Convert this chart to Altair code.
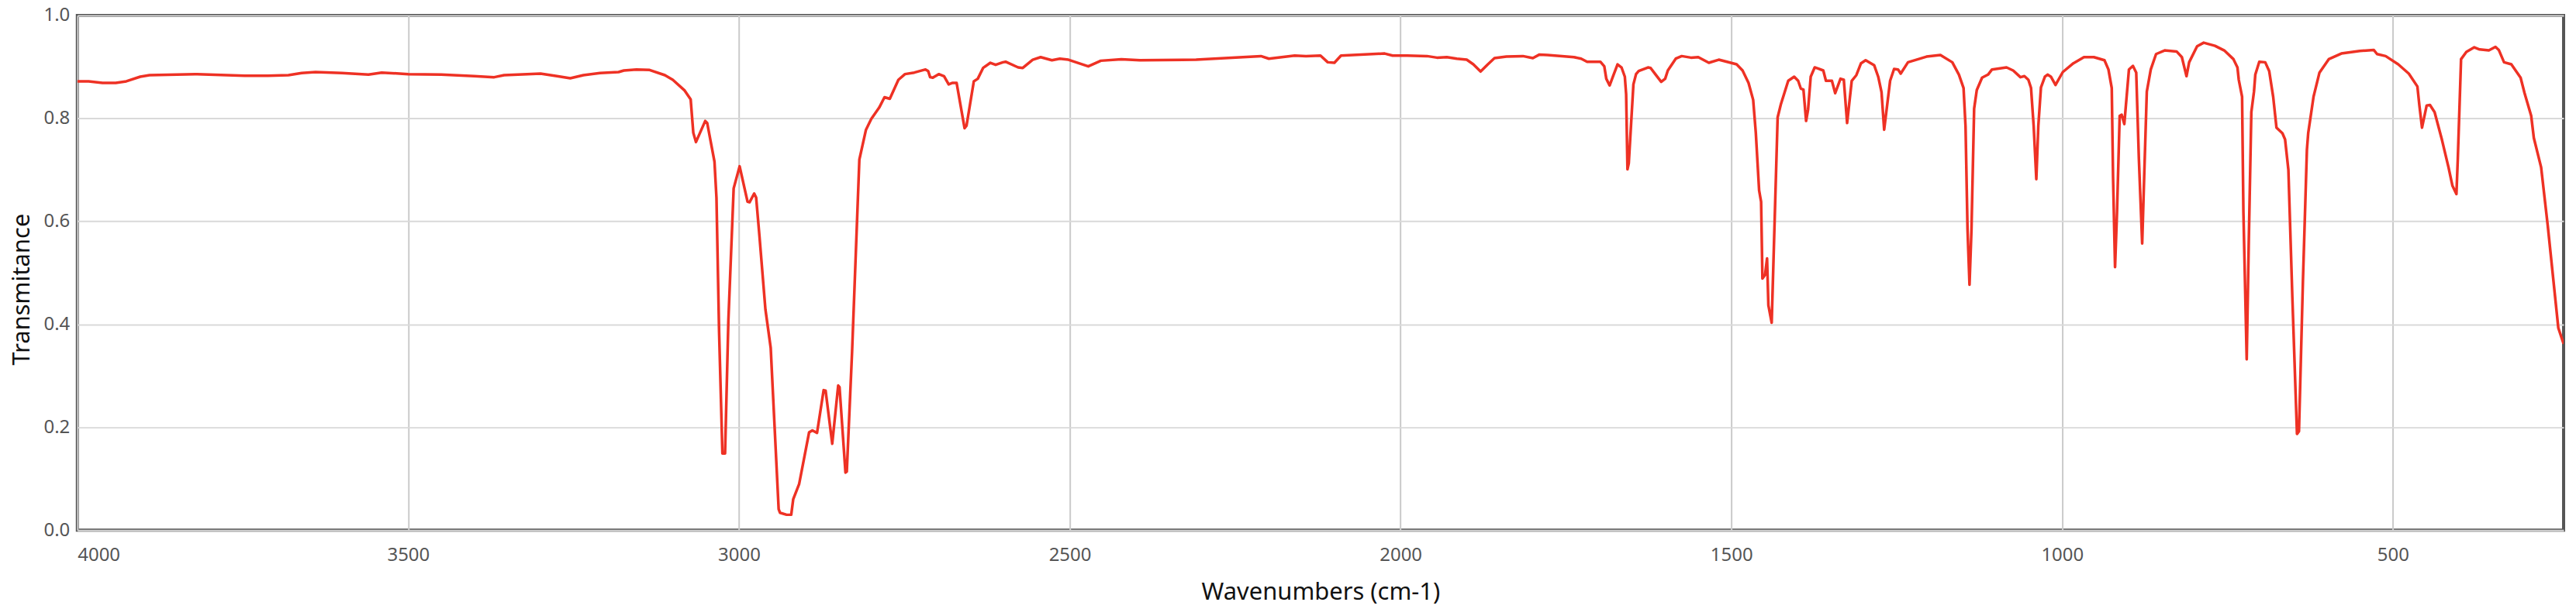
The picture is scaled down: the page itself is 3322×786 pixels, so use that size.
import altair as alt
import pandas as pd

# Wavenumber (cm-1)
wavenumber = [
    4000, 3983, 3962, 3942, 3926, 3905, 3891, 3822, 3747, 3712, 3681, 3661, 3640, 3600, 3560, 3540,
    3500, 3450, 3400, 3370, 3355, 3320, 3300, 3275, 3255, 3235, 3210, 3182, 3174, 3155, 3135, 3112,
    3100, 3082, 3073, 3069, 3065, 3051, 3048, 3037, 3034, 3030, 3025, 3021, 3016, 3008, 2999, 2987,
    2984, 2977, 2974, 2969, 2960, 2952, 2940, 2938, 2928, 2921, 2918, 2909, 2894, 2889, 2882, 2872,
    2869, 2859, 2850, 2848, 2839, 2837, 2829, 2818, 2808, 2800, 2788, 2780, 2772, 2759, 2749, 2735,
    2718, 2714, 2711, 2707, 2698, 2690, 2683, 2677, 2671, 2659, 2656, 2645, 2639, 2631, 2620, 2612,
    2601, 2597, 2578, 2571, 2556, 2544, 2527, 2515, 2502, 2472, 2453, 2422, 2394, 2309, 2211, 2199,
    2160, 2143, 2121, 2110, 2100, 2090, 2024, 2012, 1990, 1960, 1945, 1930, 1915, 1900, 1890, 1879,
    1868, 1858, 1840, 1815, 1800, 1790, 1778, 1756, 1738, 1727, 1718, 1698, 1692, 1689, 1684, 1679,
    1672, 1666, 1661, 1659, 1657, 1655, 1648, 1644, 1640, 1626, 1622, 1615, 1606, 1600, 1596, 1584,
    1575, 1561, 1550, 1534, 1519, 1492, 1483, 1474, 1467, 1463, 1458, 1455, 1453, 1449, 1446, 1444,
    1439, 1430, 1425, 1414, 1405, 1399, 1395, 1391, 1387, 1384, 1380, 1374, 1369, 1361, 1357, 1348,
    1343, 1335, 1330, 1325, 1318, 1311, 1304, 1297, 1284, 1278, 1273, 1269, 1260, 1254, 1248, 1244,
    1233, 1205, 1184, 1166, 1156, 1149, 1146, 1143, 1140, 1137, 1133, 1129, 1121, 1112, 1106, 1084,
    1074, 1063, 1057, 1051, 1047, 1043, 1039, 1036, 1032, 1026, 1022, 1017, 1010, 999, 983, 967,
    952, 936, 930, 925, 923, 920, 917, 913, 910, 906, 899, 893, 888, 884, 879, 876,
    872, 866, 858, 845, 827, 819, 812, 808, 796, 786, 769, 755, 741, 735, 733, 728,
    726, 721, 718, 714, 710, 708, 702, 693, 687, 681, 676, 667, 663, 658, 652, 645,
    642, 636, 630, 628, 620, 611, 597, 578, 550, 529, 524, 511, 492, 476, 463, 460,
    456, 449, 444, 437, 426, 416, 410, 404, 402, 397, 389, 377, 369, 355, 345, 340,
    332, 321, 307, 301, 291, 287, 276, 266, 250, 242,
]

# Transmittance
transmittance = [
    0.872, 0.872, 0.869, 0.869, 0.872, 0.881, 0.884, 0.886, 0.883, 0.883, 0.884, 0.888, 0.890, 0.888, 0.885, 0.889,
    0.886, 0.885, 0.882, 0.880, 0.884, 0.886, 0.887, 0.882, 0.878, 0.884, 0.888, 0.890, 0.893, 0.895, 0.894, 0.884,
    0.875, 0.854, 0.837, 0.772, 0.754, 0.795, 0.791, 0.716, 0.646, 0.384, 0.149, 0.149, 0.407, 0.664, 0.707, 0.638,
    0.637, 0.654, 0.646, 0.571, 0.429, 0.354, 0.041, 0.034, 0.030, 0.030, 0.060, 0.090, 0.190, 0.194, 0.189, 0.272,
    0.271, 0.168, 0.281, 0.278, 0.112, 0.114, 0.347, 0.720, 0.778, 0.799, 0.821, 0.841, 0.838, 0.875, 0.886, 0.889,
    0.895, 0.892, 0.880, 0.879, 0.886, 0.882, 0.866, 0.869, 0.869, 0.781, 0.786, 0.872, 0.877, 0.898, 0.908, 0.904,
    0.909, 0.910, 0.899, 0.898, 0.914, 0.919, 0.913, 0.916, 0.914, 0.901, 0.912, 0.915, 0.913, 0.914, 0.921, 0.916,
    0.922, 0.921, 0.922, 0.909, 0.908, 0.922, 0.926, 0.922, 0.922, 0.921, 0.918, 0.919, 0.916, 0.914, 0.905, 0.891,
    0.905, 0.917, 0.920, 0.921, 0.917, 0.924, 0.923, 0.921, 0.919, 0.916, 0.910, 0.910, 0.901, 0.877, 0.864, 0.881,
    0.905, 0.899, 0.881, 0.847, 0.701, 0.713, 0.866, 0.886, 0.892, 0.899, 0.898, 0.886, 0.871, 0.877, 0.893, 0.916,
    0.921, 0.918, 0.919, 0.908, 0.914, 0.905, 0.893, 0.869, 0.836, 0.772, 0.660, 0.638, 0.489, 0.496, 0.528, 0.437,
    0.403, 0.802, 0.828, 0.873, 0.881, 0.873, 0.858, 0.856, 0.795, 0.817, 0.881, 0.899, 0.897, 0.893, 0.873, 0.873,
    0.849, 0.877, 0.875, 0.791, 0.873, 0.884, 0.907, 0.913, 0.903, 0.881, 0.851, 0.778, 0.873, 0.896, 0.895, 0.887,
    0.909, 0.920, 0.923, 0.909, 0.885, 0.859, 0.785, 0.585, 0.477, 0.585, 0.819, 0.855, 0.879, 0.885, 0.895, 0.899,
    0.893, 0.880, 0.882, 0.875, 0.859, 0.785, 0.682, 0.785, 0.860, 0.881, 0.885, 0.881, 0.865, 0.890, 0.907, 0.919,
    0.919, 0.913, 0.895, 0.859, 0.685, 0.511, 0.619, 0.805, 0.807, 0.789, 0.895, 0.902, 0.889, 0.722, 0.557, 0.685,
    0.852, 0.895, 0.925, 0.932, 0.930, 0.919, 0.882, 0.909, 0.940, 0.947, 0.941, 0.932, 0.915, 0.899, 0.875, 0.842,
    0.619, 0.332, 0.552, 0.812, 0.852, 0.885, 0.910, 0.909, 0.892, 0.842, 0.782, 0.771, 0.759, 0.700, 0.452, 0.187,
    0.192, 0.485, 0.739, 0.772, 0.842, 0.889, 0.915, 0.926, 0.931, 0.933, 0.925, 0.921, 0.905, 0.887, 0.862, 0.825,
    0.782, 0.825, 0.826, 0.812, 0.759, 0.705, 0.669, 0.653, 0.719, 0.915, 0.929, 0.938, 0.934, 0.932, 0.939, 0.933,
    0.909, 0.905, 0.879, 0.849, 0.805, 0.762, 0.705, 0.592, 0.393, 0.362,
]

x_ticks = [4000, 3500, 3000, 2500, 2000, 1500, 1000, 500]
y_ticks = [0.0, 0.2, 0.4, 0.6, 0.8, 1.0]

df = pd.DataFrame({"wn": wavenumber, "t": transmittance, "order": list(range(len(wavenumber)))})

FONT = "Noto Sans"

chart = (
    alt.Chart(df)
    .mark_line(color="#EE3124", strokeWidth=3.5, clip=True, strokeJoin="round")
    .encode(
        x=alt.X(
            "wn:Q",
            scale=alt.Scale(domain=[4000, 242], nice=False, zero=False),
            axis=alt.Axis(
                title="Wavenumbers (cm-1)",
                values=x_ticks,
                format="d",
                grid=True,
                gridColor="#cacaca",
                gridWidth=2,
                ticks=False,
                tickSize=0,
                domain=False,
                labelPadding=20,
                labelFontSize=24,
                labelColor="#555555",
                labelFont=FONT,
                titleFont=FONT,
                titleFontSize=31,
                titleFontWeight="normal",
                titleColor="#111111",
                titleY=89,
                titleBaseline="alphabetic",
            ),
        ),
        y=alt.Y(
            "t:Q",
            scale=alt.Scale(domain=[0, 1], nice=False),
            axis=alt.Axis(
                title="Transmitance",
                values=y_ticks,
                format=".1f",
                grid=True,
                gridColor="#d9d9d9",
                gridWidth=2,
                ticks=False,
                tickSize=0,
                domain=False,
                labelPadding=10,
                labelFontSize=24,
                labelColor="#555555",
                labelFont=FONT,
                titleFont=FONT,
                titleFontSize=31,
                titleFontWeight="normal",
                titleColor="#111111",
                titleX=-62,
                titleY=354,
                titleBaseline="alphabetic",
            ),
        ),
        order="order:Q",
    )
    .properties(
        width=3214,
        height=666,
        background="white",
        autosize=alt.AutoSizeParams(type="none"),
        padding={"left": 92, "top": 11, "right": 8, "bottom": 100},
    )
    .configure_view(stroke="#555555", strokeWidth=4)
)

chart.save("out.html", embed_options={"renderer": "svg", "actions": False})
